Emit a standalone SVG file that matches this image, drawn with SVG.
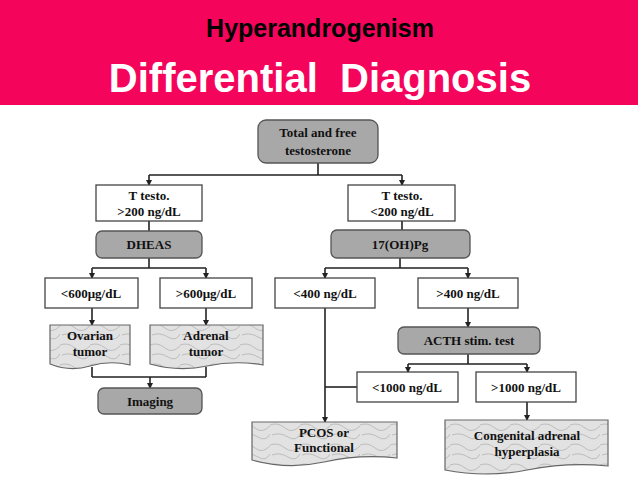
<svg xmlns="http://www.w3.org/2000/svg" width="638" height="479" viewBox="0 0 638 479">
<defs>
<marker id="ar" markerWidth="6" markerHeight="6" refX="5" refY="3" orient="auto" markerUnits="userSpaceOnUse"><path d="M0,0 L6,3 L0,6 z" fill="#222"/></marker>
<pattern id="mar" width="30" height="20" patternUnits="userSpaceOnUse"><rect width="30" height="20" fill="#e2e2e2"/><path d="M0,5 Q8,2 15,8 T30,6 M2,15 Q10,12 18,17 T30,14" stroke="#bdbdbd" fill="none" stroke-width="1"/></pattern>
</defs>
<style>
.t{font-family:"Liberation Serif",serif;font-weight:bold;font-size:13px;fill:#111;text-anchor:middle}
.w{fill:#fff;stroke:#444;stroke-width:1.3}
.g{fill:#a8a8a8;stroke:#555;stroke-width:1.3}
.m{fill:url(#mar);stroke:#666;stroke-width:1.2}
.c{stroke:#222;stroke-width:1.6;fill:none}
.a{marker-end:url(#ar)}
</style>
<rect x="0" y="0" width="638" height="105" fill="#f5045c"/>
<text x="320" y="37" font-family="Liberation Sans,Arial,sans-serif" font-weight="bold" font-size="25" text-anchor="middle" fill="#000">Hyperandrogenism</text>
<text x="320" y="92" font-family="Liberation Sans,Arial,sans-serif" font-weight="bold" font-size="40" text-anchor="middle" fill="#fff" xml:space="preserve">Differential  Diagnosis</text>
<rect x="0" y="105" width="638" height="374" fill="#fff"/>
<g id="connectors">
<path class="c" d="M318,163V175M149,175H402"/><path class="c a" d="M149,175V185"/><path class="c a" d="M402,175V185"/>
<path class="c" d="M149,221V231M402,221V230"/>
<path class="c" d="M149,258V268M92,268H206"/><path class="c a" d="M92,268V278"/><path class="c a" d="M206,268V278"/>
<path class="c" d="M400,258V268M325,268H468"/><path class="c a" d="M325,268V278"/><path class="c a" d="M468,268V278"/>
<path class="c a" d="M92,308V325"/><path class="c a" d="M206,308V325"/>
<path class="c" d="M92,367V377M206,367V377M92,377H206"/><path class="c a" d="M150,377V388"/>
<path class="c a" d="M325,308V422"/><path class="c" d="M325,387H357"/>
<path class="c a" d="M468,308V327"/>
<path class="c" d="M468,354V364M408,364H527"/><path class="c a" d="M408,364V372"/><path class="c a" d="M527,364V372"/>
<path class="c a" d="M527,402V420"/>
</g>
<g id="n-total"><rect class="g" x="258" y="120" width="120" height="43" rx="8"/><text class="t" x="318" y="137">Total and free</text><text class="t" x="318" y="155">testosterone</text></g>
<g id="n-tgt"><rect class="w" x="96" y="185" width="106" height="36"/><text class="t" x="149" y="200">T testo.</text><text class="t" x="149" y="216">&gt;200 ng/dL</text></g>
<g id="n-tlt"><rect class="w" x="348" y="185" width="107" height="36"/><text class="t" x="402" y="200">T testo.</text><text class="t" x="402" y="216">&lt;200 ng/dL</text></g>
<g id="n-dheas"><rect class="g" x="96" y="231" width="106" height="27" rx="6"/><text class="t" x="149" y="249">DHEAS</text></g>
<g id="n-17oh"><rect class="g" x="331" y="230" width="139" height="28" rx="6"/><text class="t" x="400" y="249">17(OH)Pg</text></g>
<g id="n-lt600"><rect class="w" x="45" y="278" width="93" height="30"/><text class="t" x="91" y="298">&lt;600μg/dL</text></g>
<g id="n-gt600"><rect class="w" x="160" y="278" width="92" height="30"/><text class="t" x="206" y="298">&gt;600μg/dL</text></g>
<g id="n-lt400"><rect class="w" x="275" y="278" width="100" height="30"/><text class="t" x="325" y="298">&lt;400 ng/dL</text></g>
<g id="n-gt400"><rect class="w" x="418" y="278" width="100" height="30"/><text class="t" x="468" y="298">&gt;400 ng/dL</text></g>
<g id="n-ovarian"><path class="m" d="M50,325H130V365Q110,360 90,366T50,364Z"/><text class="t" x="90" y="340">Ovarian</text><text class="t" x="90" y="356">tumor</text></g>
<g id="n-adrenal"><path class="m" d="M150,325H263V365Q235,360 207,366T150,364Z"/><text class="t" x="206" y="340">Adrenal</text><text class="t" x="206" y="356">tumor</text></g>
<g id="n-acth"><rect class="g" x="398" y="327" width="142" height="27" rx="6"/><text class="t" x="469" y="345">ACTH stim. test</text></g>
<g id="n-lt1000"><rect class="w" x="357" y="372" width="101" height="30"/><text class="t" x="407" y="392">&lt;1000 ng/dL</text></g>
<g id="n-gt1000"><rect class="w" x="476" y="372" width="100" height="30"/><text class="t" x="526" y="392">&gt;1000 ng/dL</text></g>
<g id="n-imaging"><rect class="g" x="98" y="388" width="104" height="26" rx="6"/><text class="t" x="150" y="406">Imaging</text></g>
<g id="n-pcos"><path class="m" d="M252,422H397V458Q360,454 324,462T252,460Z"/><text class="t" x="324" y="437">PCOS or</text><text class="t" x="324" y="452">Functional</text></g>
<g id="n-cah"><path class="m" d="M445,420H608V466Q568,462 527,470T445,470Z"/><text class="t" x="527" y="440">Congenital adrenal</text><text class="t" x="527" y="456">hyperplasia</text></g>
</svg>
